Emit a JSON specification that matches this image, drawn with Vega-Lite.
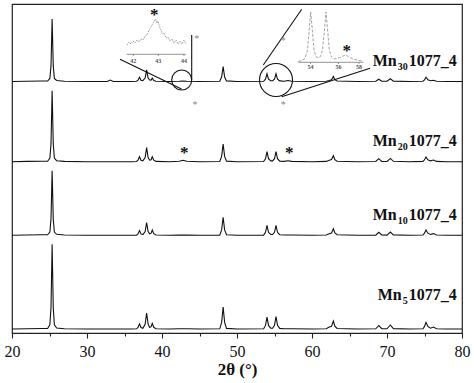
{
  "$schema": "https://vega.github.io/schema/vega-lite/v6.json",
  "width": 450,
  "height": 329,
  "autosize": {"type": "none"},
  "padding": {"left": 12, "top": 4, "right": 12, "bottom": 50},
  "background": "white",
  "config": {
    "font": "Liberation Serif",
    "view": {"stroke": "#222", "strokeWidth": 1.2},
    "axis": {"labelFont": "Liberation Serif", "titleFont": "Liberation Serif"},
    "text": {"font": "Liberation Serif"}
  },
  "datasets": {
    "spectra": [
      {"x":20,"Mn5":4,"Mn10":97.7,"Mn20":171.3,"Mn30":251.5},
      {"x":22,"Mn5":4.3,"Mn10":98,"Mn20":171.6,"Mn30":251.8},
      {"x":24,"Mn5":4.5,"Mn10":98.2,"Mn20":171.8,"Mn30":252},
      {"x":24.75,"Mn5":4.5,"Mn10":98.2,"Mn20":171.8,"Mn30":252},
      {"x":25.05,"Mn5":8.2,"Mn10":100.9,"Mn20":174.9,"Mn30":254.6},
      {"x":25.2,"Mn5":25.2,"Mn10":113.9,"Mn20":189.1,"Mn30":267.1},
      {"x":25.35,"Mn5":88.7,"Mn10":162.3,"Mn20":242.3,"Mn30":314},
      {"x":25.5,"Mn5":25.2,"Mn10":113.9,"Mn20":189.1,"Mn30":267.1},
      {"x":25.65,"Mn5":8.2,"Mn10":100.9,"Mn20":174.9,"Mn30":254.6},
      {"x":25.95,"Mn5":5,"Mn10":98.7,"Mn20":172.3,"Mn30":252.5},
      {"x":27,"Mn5":4.3,"Mn10":98,"Mn20":171.6,"Mn30":251.8},
      {"x":30,"Mn5":4,"Mn10":97.7,"Mn20":171.3,"Mn30":251.5},
      {"x":32.7,"Mn5":4,"Mn10":97.7,"Mn20":171.3,"Mn30":251.5},
      {"x":33.1,"Mn5":4,"Mn10":97.7,"Mn20":171.3,"Mn30":253},
      {"x":33.5,"Mn5":4,"Mn10":97.7,"Mn20":171.3,"Mn30":251.5},
      {"x":36,"Mn5":4,"Mn10":97.7,"Mn20":171.3,"Mn30":251.5},
      {"x":36.6,"Mn5":4.2,"Mn10":97.9,"Mn20":171.5,"Mn30":251.7},
      {"x":36.8,"Mn5":5.5,"Mn10":99.1,"Mn20":172.8,"Mn30":252.8},
      {"x":37.0,"Mn5":9,"Mn10":102.4,"Mn20":176.3,"Mn30":255.8},
      {"x":37.2,"Mn5":5.5,"Mn10":99.1,"Mn20":172.8,"Mn30":252.8},
      {"x":37.45,"Mn5":4.8,"Mn10":98.5,"Mn20":172.1,"Mn30":252.3},
      {"x":37.75,"Mn5":8.8,"Mn10":101.5,"Mn20":175.5,"Mn30":255},
      {"x":37.95,"Mn5":20,"Mn10":110.4,"Mn20":185.3,"Mn30":263.2},
      {"x":38.15,"Mn5":8.8,"Mn10":101.5,"Mn20":175.5,"Mn30":255},
      {"x":38.35,"Mn5":5.5,"Mn10":99.2,"Mn20":172.8,"Mn30":253},
      {"x":38.55,"Mn5":6.3,"Mn10":99.8,"Mn20":173.3,"Mn30":252.9},
      {"x":38.7,"Mn5":9.7,"Mn10":103,"Mn20":176.3,"Mn30":255},
      {"x":38.9,"Mn5":5.7,"Mn10":99.3,"Mn20":172.8,"Mn30":252.5},
      {"x":39.2,"Mn5":4.3,"Mn10":98,"Mn20":171.6,"Mn30":251.8},
      {"x":41,"Mn5":4,"Mn10":97.7,"Mn20":171.3,"Mn30":251.5},
      {"x":42.3,"Mn5":4.2,"Mn10":97.9,"Mn20":171.8,"Mn30":251.7},
      {"x":42.8,"Mn5":4.3,"Mn10":98,"Mn20":172.8,"Mn30":252},
      {"x":43.3,"Mn5":4.2,"Mn10":97.9,"Mn20":171.8,"Mn30":251.7},
      {"x":45,"Mn5":4,"Mn10":97.7,"Mn20":171.3,"Mn30":251.5},
      {"x":47.7,"Mn5":4.2,"Mn10":97.9,"Mn20":171.5,"Mn30":251.7},
      {"x":47.95,"Mn5":10.6,"Mn10":103.1,"Mn20":176.6,"Mn30":256},
      {"x":48.15,"Mn5":26,"Mn10":115.7,"Mn20":189,"Mn30":266.5},
      {"x":48.35,"Mn5":10.6,"Mn10":103.1,"Mn20":176.6,"Mn30":256},
      {"x":48.6,"Mn5":4.6,"Mn10":98.3,"Mn20":171.9,"Mn30":252.1},
      {"x":50,"Mn5":4,"Mn10":97.7,"Mn20":171.3,"Mn30":251.5},
      {"x":53.55,"Mn5":4.2,"Mn10":97.9,"Mn20":171.5,"Mn30":251.7},
      {"x":53.8,"Mn5":7.6,"Mn10":100.7,"Mn20":174.3,"Mn30":253.8},
      {"x":54.0,"Mn5":16,"Mn10":107.7,"Mn20":181.3,"Mn30":259.2},
      {"x":54.2,"Mn5":7.6,"Mn10":100.7,"Mn20":174.3,"Mn30":253.8},
      {"x":54.5,"Mn5":4.8,"Mn10":98.5,"Mn20":172.1,"Mn30":252.3},
      {"x":54.75,"Mn5":4.8,"Mn10":98.5,"Mn20":172.1,"Mn30":252.3},
      {"x":55.0,"Mn5":7.8,"Mn10":100.7,"Mn20":174.3,"Mn30":253.8},
      {"x":55.2,"Mn5":16.5,"Mn10":107.7,"Mn20":181.3,"Mn30":259.2},
      {"x":55.4,"Mn5":7.8,"Mn10":100.7,"Mn20":174.3,"Mn30":253.8},
      {"x":55.7,"Mn5":4.6,"Mn10":98.3,"Mn20":171.9,"Mn30":252.1},
      {"x":56.3,"Mn5":4.3,"Mn10":98,"Mn20":171.6,"Mn30":251.8},
      {"x":56.8,"Mn5":4.3,"Mn10":98,"Mn20":172.3,"Mn30":252.5},
      {"x":57.3,"Mn5":4.3,"Mn10":98,"Mn20":171.6,"Mn30":251.8},
      {"x":60,"Mn5":4,"Mn10":97.7,"Mn20":171.3,"Mn30":251.5},
      {"x":61.9,"Mn5":4.3,"Mn10":98,"Mn20":171.6,"Mn30":251.8},
      {"x":62.3,"Mn5":6,"Mn10":99.2,"Mn20":172.8,"Mn30":252.5},
      {"x":62.6,"Mn5":6.8,"Mn10":100,"Mn20":173.4,"Mn30":253.3},
      {"x":62.85,"Mn5":12,"Mn10":104.2,"Mn20":177.3,"Mn30":256.5},
      {"x":63.05,"Mn5":6.8,"Mn10":100,"Mn20":173.4,"Mn30":253.3},
      {"x":63.35,"Mn5":4.5,"Mn10":98.2,"Mn20":171.8,"Mn30":252},
      {"x":66,"Mn5":4,"Mn10":97.7,"Mn20":171.3,"Mn30":251.5},
      {"x":68.5,"Mn5":4.2,"Mn10":97.9,"Mn20":171.5,"Mn30":251.7},
      {"x":68.9,"Mn5":7.5,"Mn10":100.7,"Mn20":174.3,"Mn30":253.8},
      {"x":69.3,"Mn5":4.3,"Mn10":98,"Mn20":171.6,"Mn30":251.8},
      {"x":70.0,"Mn5":4.2,"Mn10":97.9,"Mn20":171.5,"Mn30":251.7},
      {"x":70.45,"Mn5":8,"Mn10":101,"Mn20":174.6,"Mn30":254.2},
      {"x":70.85,"Mn5":4.4,"Mn10":98.1,"Mn20":171.7,"Mn30":251.9},
      {"x":73,"Mn5":4,"Mn10":97.7,"Mn20":171.3,"Mn30":251.5},
      {"x":74.8,"Mn5":4.3,"Mn10":98,"Mn20":171.6,"Mn30":251.8},
      {"x":75.0,"Mn5":6.6,"Mn10":99.8,"Mn20":173.2,"Mn30":253.2},
      {"x":75.2,"Mn5":10.5,"Mn10":103,"Mn20":176,"Mn30":255.8},
      {"x":75.45,"Mn5":6.6,"Mn10":99.8,"Mn20":173.2,"Mn30":253.2},
      {"x":75.8,"Mn5":4.8,"Mn10":98.5,"Mn20":172.1,"Mn30":252.3},
      {"x":76.2,"Mn5":6,"Mn10":99.4,"Mn20":173,"Mn30":252.8},
      {"x":76.6,"Mn5":4.3,"Mn10":98,"Mn20":171.6,"Mn30":251.8},
      {"x":78,"Mn5":4,"Mn10":97.7,"Mn20":171.3,"Mn30":251.5},
      {"x":80,"Mn5":4,"Mn10":97.7,"Mn20":171.3,"Mn30":251.5}
    ],
    "inset1": [
      {"x":35.333,"y":288},{"x":35.6,"y":291},{"x":35.867,"y":289},{"x":36.133,"y":292},
      {"x":36.4,"y":290},{"x":36.667,"y":293},{"x":36.933,"y":291},{"x":37.2,"y":294},
      {"x":37.467,"y":293},{"x":37.733,"y":297},{"x":38.0,"y":298},{"x":38.267,"y":303},
      {"x":38.533,"y":306},{"x":38.733,"y":309},{"x":38.933,"y":311},{"x":39.133,"y":314},
      {"x":39.333,"y":310},{"x":39.467,"y":312},{"x":39.667,"y":306},{"x":39.867,"y":303},
      {"x":40.067,"y":299},{"x":40.267,"y":300},{"x":40.533,"y":295},{"x":40.8,"y":296},
      {"x":41.067,"y":292},{"x":41.333,"y":294},{"x":41.6,"y":290},{"x":41.867,"y":293},
      {"x":42.133,"y":289},{"x":42.4,"y":292},{"x":42.667,"y":289},{"x":42.933,"y":293},
      {"x":43.2,"y":289}
    ],
    "inset2": [
      {"x":58.173,"y":271.5},{"x":58.667,"y":272.5},{"x":59.067,"y":274.5},{"x":59.4,"y":283},
      {"x":59.6,"y":301},{"x":59.827,"y":321},{"x":60.067,"y":301},{"x":60.267,"y":283},
      {"x":60.533,"y":276.5},{"x":60.84,"y":275},{"x":61.133,"y":276.5},{"x":61.4,"y":283},
      {"x":61.64,"y":301},{"x":61.867,"y":321},{"x":62.107,"y":301},{"x":62.307,"y":283},
      {"x":62.6,"y":276},{"x":62.933,"y":274},{"x":63.333,"y":274.5},{"x":63.733,"y":275.5},
      {"x":64.133,"y":277},{"x":64.533,"y":278},{"x":64.933,"y":276},{"x":65.333,"y":274.5},
      {"x":65.733,"y":273.5},{"x":66.267,"y":272.5},{"x":66.84,"y":272}
    ],
    "connectors": [
      {"x":34.4,"y":273.7,"x2":42.6,"y2":244},
      {"x":43.96,"y":298,"x2":43.96,"y2":253},
      {"x":53.507,"y":268,"x2":58.627,"y2":323.7},
      {"x":55.96,"y":236.3,"x2":67.733,"y2":264.7}
    ],
    "insetAxes": [
      {"x":35.29,"y":278.7,"x2":43.16,"y2":278.7},
      {"x":36.17,"y":278.7,"x2":36.17,"y2":277},
      {"x":39.51,"y":278.7,"x2":39.51,"y2":277},
      {"x":42.93,"y":278.7,"x2":42.93,"y2":277},
      {"x":58.173,"y":270.7,"x2":66.84,"y2":270.7},
      {"x":59.8,"y":270.7,"x2":59.8,"y2":269},
      {"x":63.533,"y":270.7,"x2":63.533,"y2":269},
      {"x":66.267,"y":270.7,"x2":66.267,"y2":269}
    ],
    "insetTicks": [
      {"x":36.17,"y":272.3,"t":"42"},{"x":39.51,"y":272.3,"t":"43"},{"x":42.93,"y":272.3,"t":"44"},
      {"x":59.8,"y":266.3,"t":"54"},{"x":63.533,"y":266.3,"t":"56"},{"x":66.267,"y":266.3,"t":"58"}
    ],
    "smallCircle": [{"x":42.627,"y":253}],
    "bigCircle": [{"x":55.2,"y":253}],
    "astBold": [
      {"x":38.973,"y":321.3},{"x":64.627,"y":284.7},{"x":42.973,"y":183},{"x":56.973,"y":183}
    ],
    "astGrey": [
      {"x":44.627,"y":295.3},{"x":44.4,"y":229.7},{"x":56.173,"y":293.7},{"x":56.173,"y":229.7}
    ],
    "labels": [
      {"x":79.29,"y":267.3,"sub":"30"},
      {"x":79.29,"y":187,"sub":"20"},
      {"x":79.29,"y":113.5,"sub":"10"},
      {"x":79.29,"y":33,"sub":"5"}
    ]
  },
  "encoding": {
    "x": {
      "field": "x", "type": "quantitative",
      "scale": {"domain": [20, 80], "nice": false, "zero": false},
      "axis": {
        "values": [20,25,30,35,40,45,50,55,60,65,70,75,80],
        "labelExpr": "datum.value % 10 === 0 ? datum.label : ''",
        "tickSize": {"condition": {"test": "datum.value % 10 === 0", "value": 5}, "value": 3},
        "tickColor": "#222", "domainColor": "#222", "domainWidth": 1.2, "tickWidth": 1.1,
        "grid": false, "labelFlush": false, "labelFont": "Liberation Serif", "labelFontSize": 16, "labelColor": "#111",
        "labelPadding": 5, "title": "2θ (°)", "titleFont": "Liberation Serif", "titleFontSize": 17, "titleFontWeight": "bold",
        "titleColor": "#111", "titlePadding": 2
      }
    },
    "y": {
      "field": "y", "type": "quantitative",
      "scale": {"domain": [0, 329], "nice": false, "zero": false},
      "axis": null
    }
  },
  "layer": [
    {
      "data": {"name": "spectra"},
      "transform": [{"fold": ["Mn5", "Mn10", "Mn20", "Mn30"], "as": ["s", "y"]}],
      "mark": {"type": "line", "color": "#111", "strokeWidth": 1.1},
      "encoding": {"detail": {"field": "s"}}
    },
    {
      "data": {"name": "inset1"},
      "mark": {"type": "line", "color": "#888", "strokeWidth": 0.8, "strokeDash": [1.5, 1]}
    },
    {
      "data": {"name": "inset2"},
      "mark": {"type": "line", "color": "#999", "strokeWidth": 0.9, "strokeDash": [3, 1.5]}
    },
    {
      "data": {"name": "connectors"},
      "mark": {"type": "rule", "color": "#111", "strokeWidth": 1.1},
      "encoding": {"x2": {"field": "x2"}, "y2": {"field": "y2"}}
    },
    {
      "data": {"name": "insetAxes"},
      "mark": {"type": "rule", "color": "#777", "strokeWidth": 0.8},
      "encoding": {"x2": {"field": "x2"}, "y2": {"field": "y2"}}
    },
    {
      "data": {"name": "insetTicks"},
      "mark": {"type": "text", "font": "Liberation Serif", "fontSize": 6, "fontWeight": "bold", "color": "#555", "baseline": "middle"},
      "encoding": {"text": {"field": "t"}}
    },
    {
      "data": {"name": "smallCircle"},
      "mark": {"type": "point", "shape": "circle", "filled": false, "size": 400, "stroke": "#111", "strokeWidth": 1.1, "opacity": 1}
    },
    {
      "data": {"name": "bigCircle"},
      "mark": {"type": "point", "shape": "circle", "filled": false, "size": 1089, "stroke": "#111", "strokeWidth": 1.1, "opacity": 1}
    },
    {
      "data": {"name": "astBold"},
      "mark": {"type": "text", "text": "*", "font": "Liberation Serif", "fontSize": 17, "fontWeight": "bold", "color": "#111", "baseline": "alphabetic", "dy": 8}
    },
    {
      "data": {"name": "astGrey"},
      "mark": {"type": "text", "text": "*", "font": "Liberation Serif", "fontSize": 10, "color": "#888", "baseline": "alphabetic", "dy": 4.5}
    },
    {
      "data": {"name": "labels"},
      "mark": {"type": "text", "text": "1077_4", "font": "Liberation Serif", "fontSize": 16, "fontWeight": "bold", "color": "#111", "align": "right", "baseline": "alphabetic"}
    },
    {
      "data": {"name": "labels"},
      "mark": {"type": "text", "font": "Liberation Serif", "fontSize": 10, "fontWeight": "bold", "color": "#111", "align": "right", "baseline": "alphabetic", "dx": -49, "dy": 4},
      "encoding": {"text": {"field": "sub"}}
    },
    {
      "data": {"name": "labels"},
      "transform": [{"filter": "datum.sub !== '5'"}],
      "mark": {"type": "text", "text": "Mn", "font": "Liberation Serif", "fontSize": 16, "fontWeight": "bold", "color": "#111", "align": "right", "baseline": "alphabetic", "dx": -60}
    },
    {
      "data": {"name": "labels"},
      "transform": [{"filter": "datum.sub === '5'"}],
      "mark": {"type": "text", "text": "Mn", "font": "Liberation Serif", "fontSize": 16, "fontWeight": "bold", "color": "#111", "align": "right", "baseline": "alphabetic", "dx": -55}
    }
  ]
}
